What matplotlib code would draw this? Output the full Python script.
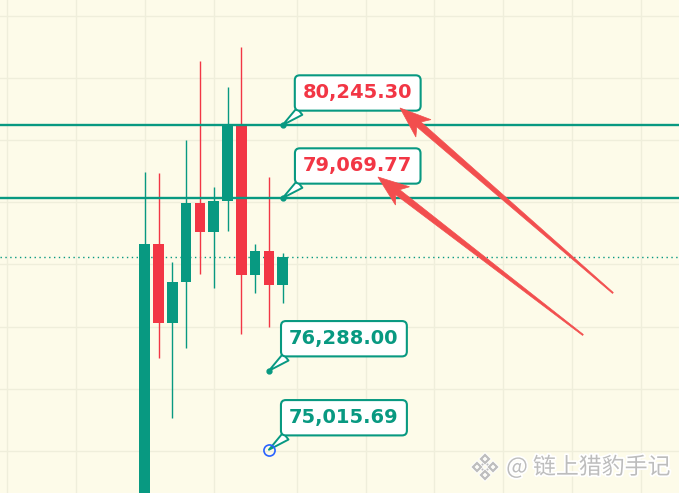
import matplotlib
matplotlib.use('Agg')
import matplotlib.pyplot as plt
import numpy as np
from matplotlib.patches import Polygon
from matplotlib import patheffects as pe

# ---- data ----
opens  = [74000, 78329, 77057, 77717, 78989, 78522, 79022, 80245.30, 77830, 78216, 77669]
highs  = [79493, 79472, 78039, 80004, 81276, 79247, 80862, 81501, 78329, 79408, 78184]
lows   = [73900, 76493, 75527, 76654, 77846, 77620, 78543, 76880, 77540, 76992, 77379]
closes = [78329, 77057, 77717, 78989, 78522, 79022, 80245.30, 77830, 78216, 77669, 78120]

level_prices = [80245.30, 79069.77]

label_texts  = ["80,245.30", "79,069.77", "76,288.00", "75,015.69"]
label_prices = [80245.30, 79069.77, 76288.00, 75015.69]
label_xidx   = [10, 10, 9, 9]
label_kind   = ["red", "red", "green", "green"]

arrow_tails = [(33.93, 77540), (31.76, 76864)]
arrow_tips  = [(18.5, 80519), (16.9, 79408)]

grid_x = [-10, -5, 0, 5, 11, 16, 21, 26, 31, 36]
grid_y = [75000, 76000, 77000, 78000, 79000, 80000, 81000, 82000]

# ---- style ----
BG = '#FDFBE9'
GRID = '#EFEEDB'
UP = '#089981'
DOWN = '#F23645'
ARROW = '#F24E4E'

fig = plt.figure(figsize=(6.79, 4.93), dpi=100)
fig.patch.set_facecolor(BG)
ax = fig.add_axes([0, 0, 1, 1])
ax.set_facecolor(BG)
ax.set_xlim(-10.49, 38.72)
ax.set_ylim(74319, 82258)
for s in ax.spines.values():
    s.set_visible(False)
ax.set_xticks([])
ax.set_yticks([])

for gx in grid_x:
    ax.axvline(gx, color=GRID, lw=1.0, zorder=0)
for gy in grid_y:
    ax.axhline(gy, color=GRID, lw=1.0, zorder=0)

# candles
for i, (o, h, l, c) in enumerate(zip(opens, highs, lows, closes)):
    col = UP if c >= o else DOWN
    ax.vlines(i, l, h, color=col, lw=1.0, zorder=2)
    ax.bar(i, abs(c - o), bottom=min(o, c), width=0.77, color=col,
           linewidth=0, zorder=3)

# last price dotted line
ax.axhline(closes[-1], color=UP, lw=1.0, linestyle=(0, (1, 2.5)), zorder=1)

# horizontal levels
for p in level_prices:
    ax.axhline(p, color=UP, lw=1.7, zorder=4)

# callout labels
for txt, p, xi, kind in zip(label_texts, label_prices, label_xidx, label_kind):
    col = DOWN if kind == "red" else UP
    ax.annotate(txt, xy=(xi, p), xytext=(75, 32), textcoords='offset pixels',
                ha='center', va='center', fontsize=14, fontweight='bold',
                color=col, zorder=6,
                bbox=dict(boxstyle='round,pad=0.42,rounding_size=0.25',
                          fc='white', ec=UP, lw=1.5),
                arrowprops=dict(arrowstyle='wedge,tail_width=0.45,shrink_factor=0.5',
                                fc='white', ec=UP, lw=1.4, relpos=(0.07, 0.0),
                                shrinkA=0, shrinkB=0))

for p, xi, kind in zip(label_prices[:3], label_xidx[:3], label_kind[:3]):
    ax.plot(xi, p, 'o', ms=3.5, color=UP, zorder=7)
ax.plot(label_xidx[3], label_prices[3], 'o', ms=8, mfc='none', mec='#2962FF',
        mew=1.2, zorder=7)

# red arrows (tapered, built from tail/tip data points)
fig.canvas.draw()
inv = ax.transData.inverted()
for tail, tip in zip(arrow_tails, arrow_tips):
    t = ax.transData.transform(tail)
    h = ax.transData.transform(tip)
    d = t - h
    L = np.hypot(*d)
    u = d / L
    n = np.array([-u[1], u[0]])
    pts = [h,
           h + u * 31 + n * 11.5,
           h + u * 25 + n * 3.2,
           t + n * 0.6,
           t - n * 0.6,
           h + u * 25 - n * 3.2,
           h + u * 31 - n * 11.5]
    pts = inv.transform(np.array(pts))
    ax.add_patch(Polygon(pts, closed=True, fc=ARROW, ec=ARROW, lw=0.5, zorder=8))

# watermark
wm = ax.text(0.987, 0.053, "@ 链上猎豹手记", transform=ax.transAxes,
             ha='right', va='center', fontsize=16.5, color='#BDBDBD',
             family=['Noto Sans CJK SC', 'DejaVu Sans'], zorder=9,
             path_effects=[pe.withStroke(linewidth=2.5, foreground='white')])
lx, ly = 485 / 679, 1 - 467 / 493
dx, dy = 8 / 679, 8 / 493
for ox, oy, ms in [(0, 0, 5), (-dx, 0, 4), (dx, 0, 4), (0, dy, 4), (0, -dy, 4)]:
    ax.plot(lx + ox, ly + oy, 'D', ms=ms, mfc='none', mec='#BDBDBD', mew=1.6,
            transform=ax.transAxes, zorder=9,
            path_effects=[pe.withStroke(linewidth=3, foreground='white')])

fig.savefig('out.png', dpi=100, facecolor=BG)
